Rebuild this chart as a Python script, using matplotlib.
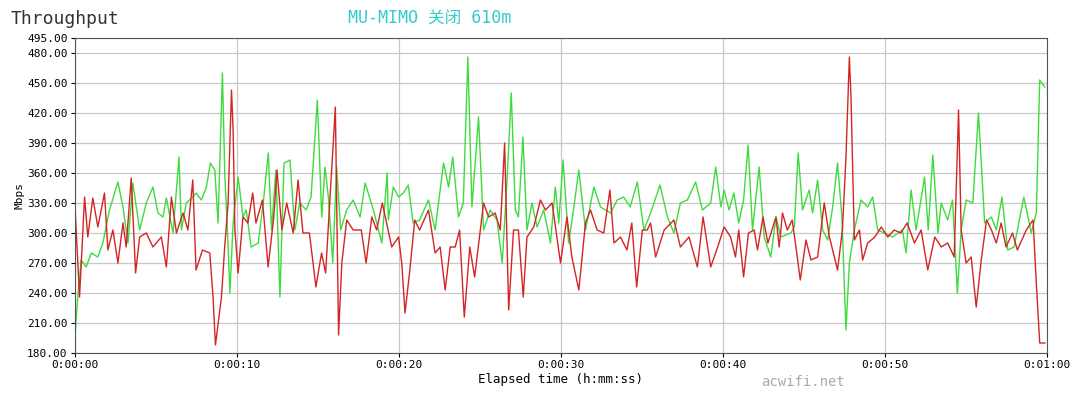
import matplotlib.pyplot as plt

# seconds, Mbps
red_t = [0, 0.31, 0.62, 0.82, 1.13, 1.44, 1.85, 2.06, 2.37, 2.68, 2.99, 3.19, 3.5, 3.77, 4.02, 4.43, 4.84, 5.36, 5.67, 5.98,
         6.29, 6.7, 7.0, 7.3, 7.5, 7.9, 8.35, 8.55, 8.7, 9.07, 9.27, 9.48, 9.69, 9.79, 9.9, 10.1, 10.4, 10.7, 11.0, 11.2,
         11.6, 11.95, 12.3, 12.5, 12.8, 13.1, 13.5, 13.8, 14.1, 14.5, 14.9, 15.25, 15.5, 16.1, 16.2, 16.3, 16.5, 16.8, 17.2, 17.7,
         18.0, 18.35, 18.65, 19.0, 19.58, 20.0, 20.2, 20.4, 20.7, 21.0, 21.3, 21.85, 22.26, 22.57, 22.88, 23.19, 23.5, 23.77, 24.06, 24.4,
         24.7, 25.05, 25.25, 25.56, 25.97, 26.28, 26.55, 26.8, 27.1, 27.4, 27.7, 27.93, 28.35, 28.76, 29.07, 29.48, 30.0, 30.4, 30.7, 31.13,
         31.54, 31.85, 32.26, 32.67, 33.05, 33.3, 33.7, 34.1, 34.4, 34.7, 35.05, 35.35, 35.56, 35.87, 36.4, 37.0, 37.4, 37.93, 38.45, 38.8,
         39.27, 39.7, 40.1, 40.5, 40.8, 41.0, 41.3, 41.6, 41.95, 42.16, 42.5, 42.8, 43.3, 43.5, 43.7, 44.0, 44.3, 44.5, 44.8, 45.15,
         45.46, 45.87, 46.28, 46.6, 47.1, 47.4, 47.62, 47.83, 47.93, 48.14, 48.45, 48.65, 48.96, 49.4, 49.8, 50.2, 50.6, 51.0, 51.4, 51.85,
         52.26, 52.67, 53.1, 53.5, 53.9, 54.3, 54.57, 54.73, 55.04, 55.35, 55.66, 55.97, 56.3, 56.6, 56.9, 57.2, 57.5, 57.9, 58.2, 58.75,
         59.17, 59.37, 59.58, 59.9]
red_v = [336, 236, 336, 296, 335, 306, 340, 283, 303, 270, 310, 286, 355, 260, 296, 300, 286, 296, 266, 336,
         300, 320, 303, 353, 263, 283, 280, 236, 188, 236, 286, 330, 443, 403, 303, 260, 316, 310, 340, 310,
         333, 266, 316, 363, 303, 330, 300, 353, 300, 300, 246, 280, 260, 426, 310, 198, 270, 313, 303, 303,
         270, 316, 303, 330, 286, 296, 270, 220, 263, 313, 303, 323, 280, 286, 243, 286, 286, 303, 216, 286,
         256, 303, 330, 316, 320, 303, 390, 223, 303, 303, 236, 296, 306, 333, 323, 330, 270, 316, 276, 243,
         310, 323, 303, 300, 343, 290, 296, 283, 310, 246, 303, 303, 310, 276, 303, 313, 286, 296, 266, 316,
         266, 286, 306, 296, 276, 303, 256, 300, 303, 283, 316, 290, 316, 286, 320, 303, 313, 290, 253, 293,
         273, 276, 330, 296, 263, 303, 376, 476, 436, 293, 303, 273, 290, 296, 306, 296, 303, 300, 310, 290,
         303, 263, 296, 286, 290, 276, 423, 303, 270, 276, 226, 273, 313, 303, 290, 310, 286, 300, 283, 303,
         313, 250, 190, 190]

green_t = [0, 0.2, 0.41, 0.72, 1.03, 1.44, 1.75, 2.16, 2.68, 2.99, 3.3, 3.6, 4.02, 4.43, 4.84, 5.15, 5.46, 5.67, 6.08, 6.45,
           6.6, 6.9, 7.3, 7.5, 7.83, 8.14, 8.39, 8.66, 8.86, 9.13, 9.28, 9.42, 9.59, 9.79, 10.1, 10.4, 10.6, 10.9, 11.34, 11.65,
           11.96, 12.16, 12.43, 12.68, 12.93, 13.3, 13.6, 13.9, 14.3, 14.6, 14.99, 15.26, 15.46, 15.67, 15.94, 16.18, 16.43, 16.8, 17.2, 17.63,
           17.94, 18.45, 18.97, 19.3, 19.37, 19.68, 20.0, 20.3, 20.6, 20.9, 21.3, 21.85, 22.26, 22.78, 23.09, 23.35, 23.7, 24.0, 24.28, 24.53,
           24.94, 25.25, 25.66, 26.08, 26.4, 26.7, 26.96, 27.21, 27.4, 27.68, 27.93, 28.24, 28.55, 28.96, 29.38, 29.68, 29.89, 30.16, 30.5, 30.8,
           31.13, 31.54, 32.06, 32.47, 33.09, 33.5, 33.9, 34.3, 34.74, 35.15, 35.56, 36.14, 36.6, 37.0, 37.4, 37.83, 38.34, 38.76, 39.27, 39.58,
           39.9, 40.1, 40.4, 40.7, 41.0, 41.3, 41.58, 41.85, 42.26, 42.57, 42.98, 43.3, 43.6, 44.22, 44.43, 44.67, 44.94, 45.35, 45.56, 45.87,
           46.18, 46.49, 46.8, 47.1, 47.37, 47.62, 47.83, 48.14, 48.55, 48.96, 49.27, 49.58, 49.99, 50.5, 51.1, 51.33, 51.64, 51.95, 52.47, 52.7,
           52.98, 53.3, 53.5, 53.9, 54.2, 54.5, 54.73, 55.04, 55.45, 55.8, 56.18, 56.6, 56.9, 57.25, 57.6, 58.0, 58.6, 59.06, 59.37, 59.58,
           59.9]
green_v = [190, 236, 273, 266, 280, 276, 290, 323, 351, 326, 290, 350, 303, 330, 346, 320, 316, 335, 300, 376,
           303, 330, 336, 340, 333, 346, 370, 363, 310, 460, 356, 310, 240, 310, 356, 316, 323, 286, 290, 330,
           380, 303, 363, 236, 370, 373, 303, 330, 323, 336, 433, 316, 366, 336, 270, 366, 303, 323, 333, 316,
           350, 323, 290, 360, 313, 346, 336, 340, 348, 310, 313, 333, 303, 370, 346, 376, 316, 330, 476, 326,
           416, 303, 323, 313, 270, 353, 440, 323, 316, 396, 303, 330, 306, 323, 290, 346, 310, 373, 290, 323,
           363, 303, 346, 326, 320, 333, 336, 326, 351, 303, 320, 348, 316, 300, 330, 333, 351, 323, 330, 366,
           326, 343, 323, 340, 310, 333, 388, 303, 366, 296, 276, 316, 296, 300, 306, 380, 323, 343, 320, 353,
           303, 293, 326, 370, 316, 203, 270, 303, 333, 326, 336, 303, 300, 296, 303, 280, 343, 303, 356, 303,
           378, 300, 330, 313, 333, 240, 303, 333, 330, 420, 310, 316, 303, 336, 283, 286, 336, 300, 320, 453,
           446]

x_ticks = [0, 10, 20, 30, 40, 50, 60]
x_labels = ['0:00:00', '0:00:10', '0:00:20', '0:00:30', '0:00:40', '0:00:50', '0:01:00']
y_ticks = [180, 210, 240, 270, 300, 330, 360, 390, 420, 450, 480, 495]

mono = 'DejaVu Sans Mono'
fig = plt.figure(figsize=(10.8, 4), dpi=100)
ax = fig.add_axes([0.069, 0.1175, 0.9, 0.7875])
ax.plot(green_t, green_v, color='#3ddc3d', lw=1.0)
ax.plot(red_t, red_v, color='#d42424', lw=1.0)
ax.set_xlim(0, 60)
ax.set_ylim(180, 495)
ax.set_xticks(x_ticks)
ax.set_xticklabels(x_labels, family=mono, fontsize=8)
ax.set_yticks(y_ticks)
ax.set_yticklabels([f'{v:.2f}' for v in y_ticks], family=mono, fontsize=8)
ax.grid(True, color='#c8c8c8', lw=0.9)
ax.tick_params(length=3, pad=2)
for s in ax.spines.values():
    s.set_color('#555555')
ax.set_xlabel('Elapsed time (h:mm:ss)', family=mono, fontsize=9, labelpad=2)
ax.set_ylabel('Mbps', family=mono, fontsize=8, labelpad=2)

fig.text(0.01, 0.94, 'Throughput', family=mono, fontsize=13, color='#333333')
fig.text(0.322, 0.94, 'MU-MIMO 关闭 610m', family=['DejaVu Sans Mono', 'Noto Sans CJK SC'],
         fontsize=12, color='#33cccc')
fig.text(0.705, 0.035, 'acwifi.net', family=mono, fontsize=10, color='#aaaaaa')

fig.savefig('out.png')
